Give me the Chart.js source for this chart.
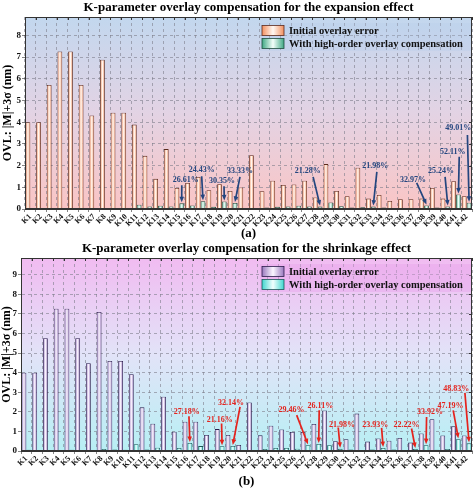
<!DOCTYPE html>
<html>
<head>
<meta charset="utf-8">
<script src="https://cdn.jsdelivr.net/npm/chart.js@4.4.1/dist/chart.umd.min.js"></script>
<style>
    html, body { margin: 0; padding: 0; background: #fff; }
    #wrap { position: relative; width: 474px; height: 489px; overflow: hidden; }
    #wrap canvas { position: absolute; left: 0; }
</style>
</head>
<body>
<div id="wrap">
    <canvas id="chartExpansion" width="474" height="241" style="top:0"></canvas>
    <canvas id="chartShrinkage" width="474" height="248" style="top:241px"></canvas>
</div>
<script>
// ===============================
// Datos
// ===============================
const categories = ['K1', 'K2', 'K3', 'K4', 'K5', 'K6', 'K7', 'K8', 'K9', 'K10',
    'K11', 'K12', 'K13', 'K14', 'K15', 'K16', 'K17', 'K18', 'K19', 'K20',
    'K21', 'K22', 'K23', 'K24', 'K25', 'K26', 'K27', 'K28', 'K29', 'K30',
    'K31', 'K32', 'K33', 'K34', 'K35', 'K36', 'K37', 'K38', 'K39', 'K40',
    'K41', 'K42'];

const seriesNames = ['Initial overlay error', 'With high-order overlay compensation'];

// (a) efecto de expansión
const expansionInitial = [4.0, 4.0, 5.72, 7.26, 7.26, 5.72, 4.31, 6.88, 4.44, 4.44,
    3.89, 2.45, 1.39, 2.76, 0.97, 1.2, 1.48, 0.87, 1.14, 0.83,
    0.99, 2.48, 0.82, 1.3, 1.11, 1.13, 1.3, 0.53, 2.07, 0.83,
    0.59, 1.9, 0.48, 0.65, 0.37, 0.45, 0.45, 0.48, 0.97, 0.48,
    1.28, 0.59];
const expansionCompensated = [0.05, 0.03, 0.05, 0.03, 0.05, 0.03, 0.04, 0.03, 0.03, 0.03,
    0.2, 0.12, 0.15, 0.12, 0.26, 0.16, 0.36, 0.1, 0.35, 0.28,
    0.05, 0.02, 0.07, 0.1, 0.12, 0.15, 0.12, 0.11, 0.3, 0.13,
    0.07, 0.08, 0.11, 0.07, 0.02, 0.04, 0.05, 0.16, 0.07, 0.12,
    0.67, 0.29];
const expansionMarked = ['K15', 'K17', 'K19', 'K20', 'K28', 'K33', 'K38', 'K40', 'K41', 'K42'];
const expansionRatios = ['26.61%', '24.43%', '30.35%', '33.33%', '21.28%', '21.98%', '32.97%', '25.24%', '52.11%', '49.01%'];

// (b) efecto de contracción
const shrinkageInitial = [4.0, 4.0, 5.76, 7.27, 7.27, 5.76, 4.48, 7.1, 4.6, 4.6,
    3.92, 2.23, 1.39, 2.77, 0.98, 1.5, 1.5, 0.82, 1.12, 0.82,
    0.31, 2.48, 0.8, 1.29, 1.1, 0.97, 0.97, 1.38, 2.07, 0.5,
    0.6, 1.91, 0.48, 0.64, 0.53, 0.67, 0.43, 0.9, 1.62, 0.79,
    1.26, 0.79];
const shrinkageCompensated = [0.07, 0.05, 0.05, 0.05, 0.07, 0.05, 0.05, 0.1, 0.08, 0.07,
    0.35, 0.08, 0.17, 0.05, 0.15, 0.41, 0.25, 0.07, 0.24, 0.26,
    0.05, 0.05, 0.1, 0.15, 0.15, 0.12, 0.29, 0.36, 0.3, 0.11,
    0.08, 0.05, 0.08, 0.15, 0.08, 0.05, 0.1, 0.3, 0.07, 0.1,
    0.6, 0.39];
const shrinkageMarked = ['K16', 'K19', 'K20', 'K27', 'K28', 'K30', 'K34', 'K37', 'K38', 'K41', 'K42'];
const shrinkageRatios = ['27.18%', '21.16%', '32.14%', '29.46%', '26.11%', '21.98%', '23.93%', '22.22%', '33.92%', '47.19%', '48.83%'];

// ===============================
// Ubicación de etiquetas (en unidades de los ejes: [índice categoría, valor])
// ===============================
const expansionLabelAt = [[14.6, 1.33], [16.1, 1.79], [18.0, 1.3], [19.7, 1.76], [26.07, 1.76],
    [32.4, 1.98], [35.95, 1.36], [38.58, 1.76], [39.7, 2.64], [40.2, 3.72]];
const expansionArrowFrom = [[14.23, 1.1], [16.1, 1.51], [18.2, 1.05], [19.7, 1.48], [26.57, 1.48],
    [32.56, 1.71], [36.3, 1.2], [38.97, 1.48], [40.3, 2.41], [41.07, 3.41]];
const shrinkageLabelAt = [[14.93, 2.0], [18.0, 1.57], [19.05, 2.46], [24.7, 2.12], [27.38, 2.3],
    [29.4, 1.35], [32.5, 1.35], [35.4, 1.35], [37.6, 2.0], [39.5, 2.3], [40.03, 3.16]];
const shrinkageArrowFrom = [[15.14, 1.78], [18.18, 1.4], [19.9, 2.25], [25.17, 1.83], [27.27, 2.08],
    [29.04, 1.2], [33.08, 1.18], [35.87, 1.15], [37.27, 1.74], [39.75, 2.08], [40.84, 2.97]];

const SERIF = '"Liberation Serif", "Times New Roman", serif';

// ===============================
// Plugins
// ===============================

/** Fondo degradado vertical del área de trazado. */
const plotBackground = {
    id: 'plotBackground',
    beforeDraw(chart, args, opts) {
        const { ctx, chartArea: a } = chart;
        const g = ctx.createLinearGradient(0, a.top, 0, a.bottom);
        opts.stops.forEach(([pos, color]) => g.addColorStop(pos, color));
        ctx.save();
        ctx.fillStyle = g;
        ctx.fillRect(a.left, a.top, a.width, a.height);
        ctx.restore();
    }
};

/** Relleno de cada barra: borde de color y centro claro (efecto cilindro). */
const barShade = {
    id: 'barShade',
    beforeDatasetsDraw(chart, args, opts) {
        const ctx = chart.ctx;
        chart.data.datasets.forEach((ds, i) => {
            const [edge, mid] = opts.colors[i];
            chart.getDatasetMeta(i).data.forEach(bar => {
                const g = ctx.createLinearGradient(bar.x - bar.width / 2, 0, bar.x + bar.width / 2, 0);
                g.addColorStop(0, edge);
                g.addColorStop(0.5, mid);
                g.addColorStop(1, edge);
                bar.options.backgroundColor = g;
            });
        });
    }
};

function drawArrow(ctx, x1, y1, x2, y2, color) {
    const ang = Math.atan2(y2 - y1, x2 - x1);
    const head = 5.5, half = 2.3;
    const cos = Math.cos(ang), sin = Math.sin(ang);
    ctx.strokeStyle = color;
    ctx.fillStyle = color;
    ctx.lineWidth = 1.7;
    ctx.beginPath();
    ctx.moveTo(x1, y1);
    ctx.lineTo(x2 - head * 0.8 * cos, y2 - head * 0.8 * sin);
    ctx.stroke();
    ctx.beginPath();
    ctx.moveTo(x2, y2);
    ctx.lineTo(x2 - head * cos + half * sin, y2 - head * sin - half * cos);
    ctx.lineTo(x2 - head * cos - half * sin, y2 - head * sin + half * cos);
    ctx.closePath();
    ctx.fill();
}

/** Flechas con el porcentaje restante sobre las barras compensadas. */
const ratioArrows = {
    id: 'ratioArrows',
    afterDatasetsDraw(chart, args, opts) {
        const { ctx, scales: { x, y } } = chart;
        const bars = chart.getDatasetMeta(1).data;
        ctx.save();
        opts.marked.forEach((cat, i) => {
            const bar = bars[categories.indexOf(cat)];
            const [fx, fy] = opts.arrowFrom[i];
            drawArrow(ctx, x.getPixelForValue(fx), y.getPixelForValue(fy), bar.x, bar.y - 1, opts.color);
            const [lx, ly] = opts.labelAt[i];
            ctx.font = 'bold 8px ' + SERIF;
            ctx.textAlign = 'center';
            ctx.textBaseline = 'middle';
            ctx.fillStyle = opts.color;
            ctx.fillText(opts.texts[i], x.getPixelForValue(lx), y.getPixelForValue(ly));
        });
        ctx.restore();
    }
};

/** Marco del gráfico con marcas interiores arriba y a la derecha. */
const plotFrame = {
    id: 'plotFrame',
    afterDraw(chart) {
        const { ctx, chartArea: a, scales: { x, y } } = chart;
        ctx.save();
        ctx.strokeStyle = '#333';
        ctx.lineWidth = 1;
        ctx.strokeRect(a.left + 0.5, a.top + 0.5, a.width - 1, a.height - 1);
        ctx.beginPath();
        for (let i = 0; i <= categories.length; i++) {
            const px = Math.round(x.getPixelForValue(i - 0.5)) + 0.5;
            ctx.moveTo(px, a.top);
            ctx.lineTo(px, a.top + 3);
        }
        y.ticks.forEach(t => {
            const py = Math.round(y.getPixelForValue(t.value)) + 0.5;
            ctx.moveTo(a.right, py);
            ctx.lineTo(a.right - 3, py);
        });
        ctx.stroke();
        ctx.restore();
    }
};

/** Leyenda dentro del área, arriba a la derecha. */
const boxLegend = {
    id: 'boxLegend',
    afterDraw(chart, args, opts) {
        const { ctx, chartArea: a } = chart;
        const x0 = a.right - 210;
        ctx.save();
        ctx.fillStyle = opts.fill;
        ctx.fillRect(x0 - 2, a.top + 6, 211, 28);
        seriesNames.forEach((name, i) => {
            const cy = a.top + 13.5 + i * 13;
            const [edge, mid] = opts.colors[i];
            const g = ctx.createLinearGradient(x0, 0, x0 + 22, 0);
            g.addColorStop(0, edge);
            g.addColorStop(0.5, mid);
            g.addColorStop(1, edge);
            ctx.fillStyle = g;
            ctx.fillRect(x0, cy - 5, 22, 10);
            ctx.strokeStyle = opts.borders[i];
            ctx.lineWidth = 0.8;
            ctx.strokeRect(x0, cy - 5, 22, 10);
            ctx.fillStyle = '#111';
            ctx.font = 'bold 10.5px ' + SERIF;
            ctx.textAlign = 'left';
            ctx.textBaseline = 'middle';
            ctx.fillText(name, x0 + 27, cy + 0.5);
        });
        ctx.restore();
    }
};

// ===============================
// Construcción de cada panel
// ===============================
function buildPanel(canvasId, cfg) {
    const tickFont = { family: SERIF, weight: 'bold', size: 8 };
    return new Chart(document.getElementById(canvasId), {
        type: 'bar',
        data: {
            labels: categories,
            datasets: [
                {
                    label: seriesNames[0],
                    data: cfg.initial,
                    backgroundColor: () => cfg.colors[0][0],
                    borderColor: cfg.borders[0],
                    borderWidth: 0.8
                },
                {
                    label: seriesNames[1],
                    data: cfg.compensated,
                    backgroundColor: () => cfg.colors[1][0],
                    borderColor: cfg.borders[1],
                    borderWidth: 0.8
                }
            ]
        },
        options: {
            responsive: false,
            animation: false,
            events: [],
            categoryPercentage: 0.9,
            barPercentage: 1.0,
            layout: { padding: { left: 0, right: 2, top: 0, bottom: 0 } },
            plugins: {
                legend: { display: false },
                tooltip: { enabled: false },
                title: {
                    display: true,
                    text: cfg.title,
                    fullSize: false,
                    color: '#000',
                    font: { family: SERIF, weight: 'bold', size: 13, lineHeight: 1.2 },
                    padding: { top: 0, bottom: 1.4 }
                },
                plotBackground: { stops: cfg.background },
                barShade: { colors: cfg.colors },
                ratioArrows: {
                    marked: cfg.marked, texts: cfg.ratios, labelAt: cfg.labelAt,
                    arrowFrom: cfg.arrowFrom, color: cfg.arrowColor
                },
                boxLegend: { colors: cfg.colors, borders: cfg.borders, fill: cfg.legendFill }
            },
            scales: {
                x: {
                    grid: { offset: true, color: '#7d7d8a', lineWidth: 0.6, tickLength: 3, tickColor: '#333' },
                    border: { display: true, color: '#333', dash: [3, 3] },
                    ticks: { autoSkip: false, minRotation: 45, maxRotation: 45, padding: 0, color: '#111', font: tickFont },
                    title: {
                        display: true, text: cfg.panel, color: '#000', padding: 0,
                        font: { family: SERIF, weight: 'bold', size: 13, lineHeight: 1.2 }
                    },
                    afterFit: s => { s.height = cfg.xHeight; }
                },
                y: {
                    min: 0,
                    max: cfg.yMax,
                    grid: { color: '#7d7d8a', lineWidth: 0.6, tickLength: 3, tickColor: '#333' },
                    border: { display: true, color: '#333', dash: [3, 3] },
                    ticks: { stepSize: 1, includeBounds: false, padding: 1, color: '#111',
                        font: { family: SERIF, weight: 'bold', size: 9 } },
                    title: {
                        display: true, text: 'OVL: |M|+3σ (nm)', color: '#000', padding: { top: cfg.yTitlePad, bottom: 0 },
                        font: { family: SERIF, weight: 'bold', size: 12, lineHeight: 1.2 }
                    },
                    afterFit: s => { s.width = cfg.yWidth; }
                }
            }
        },
        plugins: [plotBackground, barShade, ratioArrows, plotFrame, boxLegend]
    });
}

buildPanel('chartExpansion', {
    title: 'K-parameter overlay compensation for the expansion effect',
    panel: '(a)',
    initial: expansionInitial,
    compensated: expansionCompensated,
    marked: expansionMarked,
    ratios: expansionRatios,
    labelAt: expansionLabelAt,
    arrowFrom: expansionArrowFrom,
    arrowColor: '#24467f',
    yMax: 8.85,
    yWidth: 25,
    yTitlePad: 1,
    xHeight: 32,
    colors: [['#f3905f', '#fff8f2'], ['#3fa884', '#f4fffa']],
    borders: ['#5b2a1c', '#1d4d3e'],
    background: [[0, '#c2d7ee'], [0.5, '#e3d3e4'], [1, '#fac5c5']],
    legendFill: 'rgba(178, 204, 234, 0.25)'
});

buildPanel('chartShrinkage', {
    title: 'K-parameter overlay compensation for the shrinkage effect',
    panel: '(b)',
    initial: shrinkageInitial,
    compensated: shrinkageCompensated,
    marked: shrinkageMarked,
    ratios: shrinkageRatios,
    labelAt: shrinkageLabelAt,
    arrowFrom: shrinkageArrowFrom,
    arrowColor: '#e5231d',
    yMax: 9.86,
    yWidth: 21,
    yTitlePad: 0,
    xHeight: 38,
    colors: [['#9a78be', '#fbf6ff'], ['#3fd6cf', '#f2fffe']],
    borders: ['#2c1d4b', '#1b5656'],
    background: [[0, '#f1bbf1'], [0.5, '#e2e3f8'], [1, '#b7eff4']],
    legendFill: 'rgba(232, 160, 236, 0.4)'
});
</script>
</body>
</html>
